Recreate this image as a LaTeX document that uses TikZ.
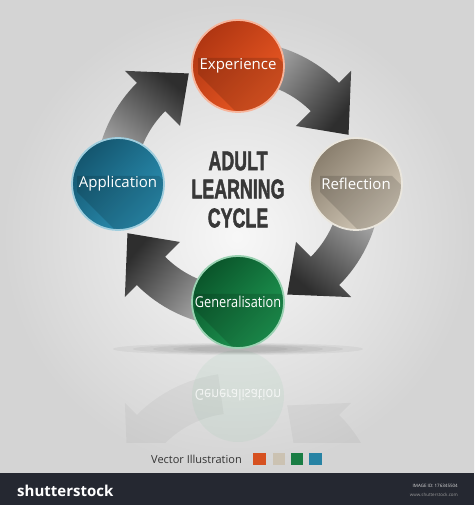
\documentclass[tikz,border=0pt]{standalone}
\usepackage{fontspec}
\setmainfont{Open Sans}
\newfontfamily\headfont[FakeBold=2.2]{Liberation Sans}
\usepackage{graphicx}
\usetikzlibrary{calc}
\definecolor{expL}{HTML}{EE5A24}\definecolor{expD}{HTML}{B03612}
\definecolor{appL}{HTML}{2B92B6}\definecolor{appD}{HTML}{14566F}
\definecolor{refL}{HTML}{D6CCBB}\definecolor{refD}{HTML}{8A7F6E}
\definecolor{genL}{HTML}{1F9C55}\definecolor{genD}{HTML}{0A552A}
\definecolor{barC}{HTML}{252831}
\definecolor{headC}{HTML}{383838}
\newcommand\cyclearrow[2]{%
  \begin{scope}[shift={(238,321)}]
  \path[#2] (172-#1:143) arc[start angle=172-#1, end angle=135-#1, radius=143]
    -- (135-#1:160) -- (114-#1:121) -- (135-#1:82) -- (135-#1:103)
    arc[start angle=135-#1, end angle=172-#1, radius=103] -- cycle;
  \end{scope}}
\newcommand\longshadow[3]{%
  \begin{scope}
  \clip (#1) circle (45);
  \fill[black, opacity=0.14] ($(#1)+(-#2,#3)$) -- ($(#1)+(#2,#3)$) -- ($(#1)+(#2+70,#3-70)$)
    -- ($(#1)+(#2+70,-#3-70)$) -- ($(#1)+(-#2+70,-#3-70)$) -- ($(#1)+(-#2,-#3)$) -- cycle;
  \end{scope}}
\begin{document}
\begin{tikzpicture}[x=1pt,y=1pt,
  circ/.style n args={3}{circle, minimum size=92pt, inner sep=0pt, left color=#2, right color=#1, shading angle=45, draw=#3, line width=1.8pt},
  lbl/.style={text=white, font=\fontsize{15}{15}\selectfont, inner sep=0pt},
  arrowshade/.style={left color=black!82, right color=black!32, shading angle=#1},
  headtxt/.style={text=headC, font=\headfont\bfseries\fontsize{27}{27}\selectfont, inner sep=0pt},
  swatch/.style={fill=#1}]
\useasboundingbox (0,0) rectangle (474,505);
% background
\shade[inner color=black!3, outer color=black!17] (0,32) rectangle (474,505);
% reflection
\begin{scope}
  \clip (0,62) rectangle (474,155);
  \begin{scope}[shift={(0,310)}, yscale=-1, opacity=0.04]
    \cyclearrow{180}{fill=black}
    \cyclearrow{270}{fill=black}
  \end{scope}
  \fill[genL!60!white, opacity=0.10] (238,109) circle (46);
\end{scope}
\node[text=white, opacity=0.75, font=\fontsize{15}{15}\selectfont, inner sep=0pt] (Gref) at (238,110) {\scalebox{0.85}[-1]{Generalisation}};
% floor shadow
\foreach \rx/\ry in {125/6,105/5,85/4.5,65/4,50/3}{\fill[black, opacity=0.045] (238,156) ellipse [x radius=\rx, y radius=\ry];}
% arrows
\cyclearrow{0}{arrowshade=-40}
\cyclearrow{90}{arrowshade=-130}
\cyclearrow{180}{arrowshade=140}
\cyclearrow{270}{arrowshade=50}
% circles
\node[circ={expL}{expD}{expL!45!white}] (E) at (238,439) {};
\node[circ={refL}{refD}{refL!50!white}] (R) at (356,321) {};
\node[circ={genL}{genD}{genL!45!white}] (G) at (238,203) {};
\node[circ={appL}{appD}{appL!45!white}] (A) at (118,321) {};
\longshadow{E}{40}{8}
\longshadow{R}{36}{8}
\longshadow{G}{43}{8}
\longshadow{A}{41}{8}
\node[lbl] (Et) at (E) {Experience};
\node[lbl] (Rt) at (R) {Reflection};
\node[lbl] (Gt) at (G) {\scalebox{0.85}[1]{Generalisation}};
\node[lbl] (At) at (A) {Application};
% centre title
\node[headtxt] (t1) at (238,344) {\scalebox{0.66}[1]{ADULT}};
\node[headtxt] (t2) at (238,316) {\scalebox{0.66}[1]{LEARNING}};
\node[headtxt] (t3) at (238,287) {\scalebox{0.66}[1]{CYCLE}};
% legend
\node[anchor=base west, text=black!80, font=\fontsize{11}{11}\selectfont, inner sep=0pt] (vi) at (151,41) {Vector Illustration};
\fill[swatch=expL!90!black] (253,40) rectangle (266,52);
\fill[swatch=refL!95!black] (273,40) rectangle (285,52);
\fill[swatch=genL!80!black] (291,40) rectangle (303,52);
\fill[swatch=appL!90!black] (309,40) rectangle (322,52);
% bottom bar
\fill[barC] (0,0) rectangle (474,32);
\node[anchor=base west, text=white, font=\bfseries\fontsize{15}{15}\selectfont, inner sep=0pt] (ss) at (17,9) {shutterstock};
\node[anchor=base east, text=white!85!black, font=\fontsize{4.5}{4.5}\selectfont, inner sep=0pt] (iid) at (458,17) {IMAGE ID: 176345504};
\node[anchor=base east, text=white!60!black, font=\fontsize{4.5}{4.5}\selectfont, inner sep=0pt] (www) at (458,9) {www.shutterstock.com};
\end{tikzpicture}
\end{document}
